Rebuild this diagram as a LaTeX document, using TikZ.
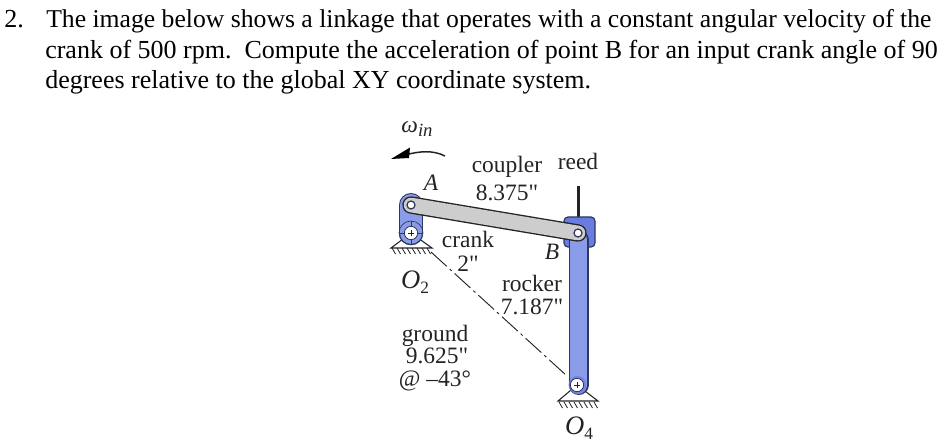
\documentclass[tikz,border=0pt]{standalone}
\usepackage{fontspec}
\setmainfont{Liberation Serif}
\newfontfamily\rawserif{Liberation Serif}[Ligatures=ResetAll]
\newcommand{\inchmark}{{\rawserif\symbol{34}}}
\usetikzlibrary{arrows.meta}
\definecolor{linkblue}{RGB}{138,155,232}
\definecolor{headblue}{RGB}{105,125,225}
\definecolor{linkedge}{RGB}{45,55,95}
\definecolor{coupgray}{RGB}{205,205,205}
\definecolor{inkc}{RGB}{35,35,35}
\newcommand{\subO}[1]{\textit{O}\raisebox{-3.5pt}{\fontsize{13pt}{13pt}\selectfont\upshape #1}}
\tikzset{
 body/.style={font=\fontsize{19.5pt}{22pt}\selectfont,anchor=base west,inner sep=0pt,text=black},
 lab/.style={font=\fontsize{17.6pt}{18pt}\selectfont,inner sep=0pt,text=inkc,align=center},
 ital/.style={font=\fontsize{17.6pt}{18pt}\selectfont\itshape,inner sep=0pt,text=inkc},
 pin/.style={circle,draw=linkedge,fill=white,line width=0.9pt,minimum size=6pt,inner sep=0pt},
 support/.style={draw=inkc,line width=0.8pt},
 hatchline/.style={draw=inkc,line width=0.6pt},
 groundline/.style={draw=inkc,line width=0.7pt,dash pattern=on 16pt off 3pt on 2pt off 3pt},
}
\begin{document}
\begin{tikzpicture}[x=0.75pt,y=-0.75pt]
\useasboundingbox (0,0) rectangle (947,442);
% text
\node[body] (n2) at (4,28) {2.};
\node[body,font=\fontsize{19.25pt}{22pt}\selectfont] (l1) at (46,28) {The image below shows a linkage that operates with a constant angular velocity of the};
\node[body] (l2) at (45,59) {crank of 500 rpm.\ \ Compute the acceleration of point B for an input crank angle of 90};
\node[body] (l3) at (45,89) {degrees relative to the global XY coordinate system.};
% joints
\coordinate (A) at (411,205);
\coordinate (O2) at (411,233);
\coordinate (B) at (578,233);
\coordinate (O4) at (577,385);
% supports
\draw[support] (O2) -- (391,248) -- (432,248) -- cycle;
\draw[support] (O4) -- (558,401) -- (598,401) -- cycle;
\foreach \i in {0,...,7}{
 \draw[hatchline] (392+5*\i,248) -- ++(3.5,6);
 \draw[hatchline] (559+5*\i,402) -- ++(3.5,6);
}
% ground
\draw[groundline] (431,252) -- (567,376);
% crank
\draw[linkedge,line width=18pt,line cap=round] (A) -- (O2);
\draw[linkblue,line width=16.4pt,line cap=round] (A) -- (O2);
\draw[linkedge,line width=0.5pt] (O2) circle[radius=12];
\draw[linkedge,line width=0.5pt] (411,221) -- (411,245) (399,233) -- (423,233);
% reed, head and rocker
\draw[draw=inkc,line width=2.8pt] (578.5,186) -- (578.5,221);
\draw[draw=linkedge,line width=0.9pt,fill=headblue,rounded corners=3pt] (564,217) rectangle (595,247);
\draw[linkedge,line width=15pt,line cap=round] (578.5,240) -- (578.5,385);
\draw[linkblue,line width=13.4pt,line cap=round] (578.5,240) -- (578.5,385);
\fill[headblue,opacity=.7] (577.5,385) circle[radius=9];
% coupler
\draw[inkc,line width=13pt,line cap=round] (A) -- (B);
\draw[coupgray,line width=11pt,line cap=round] (A) -- (B);
% pins
\node[pin] (pa) at (A) {};
\node[pin] (pb) at (B) {};
\node[pin,minimum size=10pt,line width=.6pt] (po2) at (O2) {};
\node[pin,minimum size=10pt,line width=.6pt] (po4) at (O4) {};
\draw[line width=.4pt,inkc] (O2)+(-3,0) -- +(3,0) (O2)+(0,-3) -- +(0,3);
\draw[line width=.4pt,inkc] (O4)+(-3,0) -- +(3,0) (O4)+(0,-3) -- +(0,3);
% omega arrow
\draw[inkc,line width=1.1pt] (445,156) .. controls (433,150) and (420,151) .. (405,155);
\fill[black] (391,159) -- (410,147.5) -- (409,158) -- cycle;
% labels
\node[ital] (om) at (417,129) {ω\raisebox{-3pt}{\fontsize{14pt}{14pt}\selectfont in}};
\node[ital] (la) at (431,183) {A};
\node[lab] (coup) at (507,179) {coupler\\[3pt]8.375\inchmark};
\node[lab] (reed) at (578,161) {reed};
\node[lab] (cr) at (468,251) {crank\\[0pt]2\inchmark};
\node[ital] (lb) at (552,252) {B};
\node[lab,font=\fontsize{20pt}{20pt}\selectfont] (lo2) at (415,282) {\subO{2}};
\node[lab] (ro) at (532,295) {rocker\\[-1pt]7.187\inchmark};
\node[lab] (gr) at (435,358) {ground\\[-1pt]\,9.625\inchmark\\[-1pt]@ --43°};
\node[lab,font=\fontsize{20pt}{20pt}\selectfont] (lo4) at (579,428) {\subO{4}};
\end{tikzpicture}
\end{document}
